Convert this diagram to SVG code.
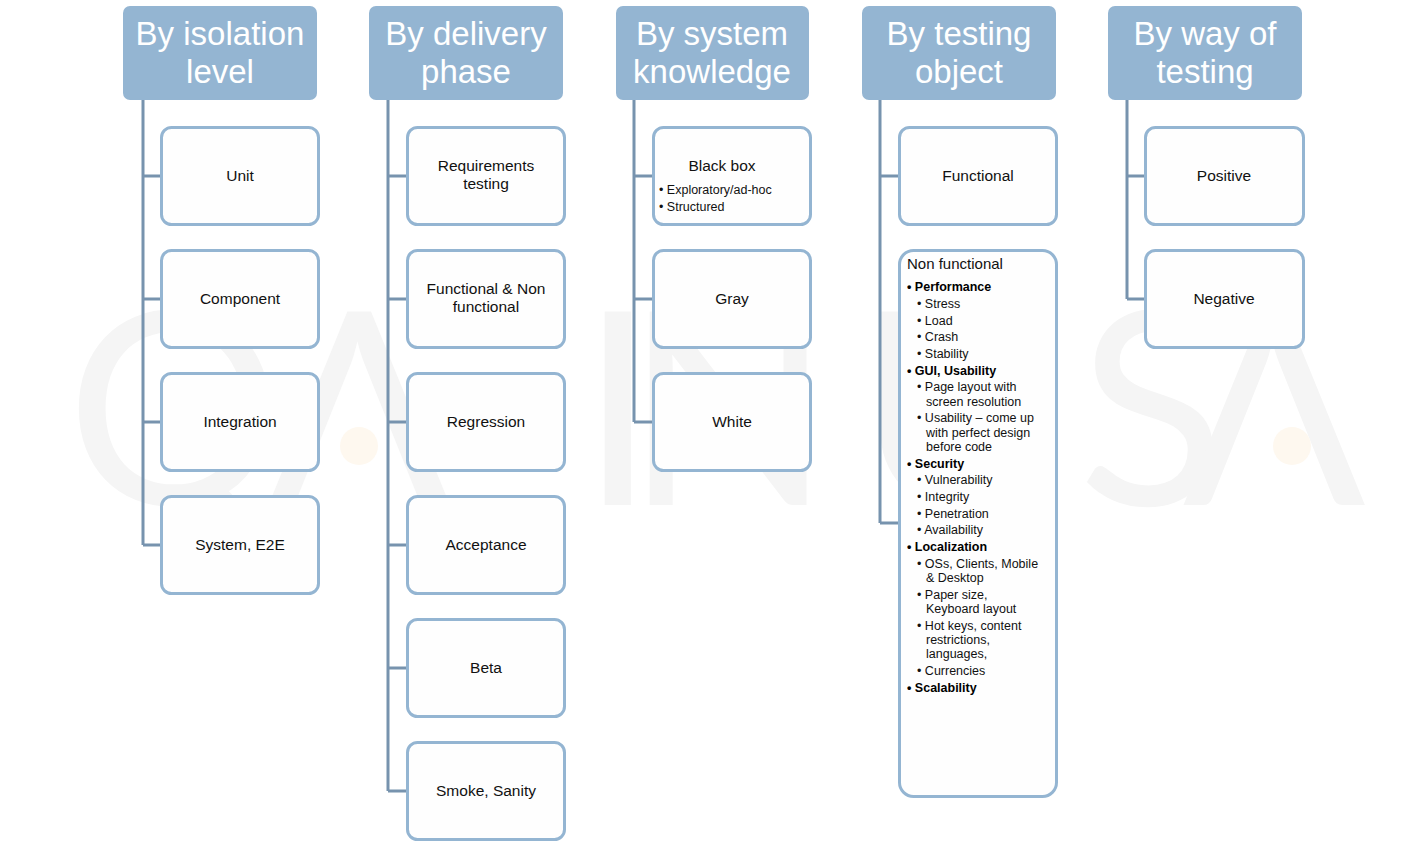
<svg xmlns="http://www.w3.org/2000/svg" width="1425" height="843" viewBox="0 0 1425 843">
<style>
.hd{fill:#94b5d2}
.ht{font-family:"Liberation Sans",Arial,sans-serif;font-size:33px;fill:#ffffff;text-anchor:middle}
.bx{fill:#fefefe;stroke:#94b5d2;stroke-width:3}
.lb{font-family:"Liberation Sans",Arial,sans-serif;font-size:15.5px;fill:#111111;text-anchor:middle}
.sm{font-family:"Liberation Sans",Arial,sans-serif;font-size:12.5px;fill:#111111}
.smb{font-family:"Liberation Sans",Arial,sans-serif;font-size:12.5px;fill:#000000;font-weight:bold}
.cn{fill:none;stroke:#7793ae;stroke-width:3}
.wm{font-family:"Lato","Liberation Sans",sans-serif;font-weight:400;font-size:270px;fill:#f5f5f5}
</style>
<rect width="1425" height="843" fill="#ffffff"/>
<g id="watermark">
<text class="wm" x="66" y="505">Q</text>
<text class="wm" x="268" y="505">Λ</text>
<text class="wm" x="580" y="505">I</text>
<text class="wm" x="625" y="505">N</text>
<text class="wm" x="858" y="505">U</text>
<text class="wm" x="1078" y="505">S</text>
<text class="wm" x="1183" y="505">Λ</text>
<circle cx="359" cy="446" r="19" fill="#fef8ef"/>
<circle cx="1292" cy="446" r="19" fill="#fef8ef"/>
</g>
<g id="connectors">
<path class="cn" d="M143 100V545M143 176H161M143 299H161M143 422H161M143 545H161"/>
<path class="cn" d="M388 100V791M388 176H407M388 299H407M388 422H407M388 545H407M388 668H407M388 791H407"/>
<path class="cn" d="M634 100V422M634 176H653M634 299H653M634 422H653"/>
<path class="cn" d="M880 100V523M880 176H899M880 523H899"/>
<path class="cn" d="M1127 100V299M1127 176H1145M1127 299H1145"/>
</g>
<g id="h1"><rect class="hd" x="123" y="6" width="194" height="94" rx="7"/><text class="ht" x="220" y="45">By isolation</text><text class="ht" x="220" y="83">level</text></g>
<g id="h2"><rect class="hd" x="369" y="6" width="194" height="94" rx="7"/><text class="ht" x="466" y="45">By delivery</text><text class="ht" x="466" y="83">phase</text></g>
<g id="h3"><rect class="hd" x="616" y="6" width="193" height="94" rx="7"/><text class="ht" x="712" y="45">By system</text><text class="ht" x="712" y="83">knowledge</text></g>
<g id="h4"><rect class="hd" x="862" y="6" width="194" height="94" rx="7"/><text class="ht" x="959" y="45">By testing</text><text class="ht" x="959" y="83">object</text></g>
<g id="h5"><rect class="hd" x="1108" y="6" width="194" height="94" rx="7"/><text class="ht" x="1205" y="45">By way of</text><text class="ht" x="1205" y="83">testing</text></g>

<g id="unit"><rect class="bx" x="161.5" y="127.5" width="157" height="97" rx="10"/><text class="lb" x="240" y="181">Unit</text></g>
<g id="component"><rect class="bx" x="161.5" y="250.5" width="157" height="97" rx="10"/><text class="lb" x="240" y="304">Component</text></g>
<g id="integration"><rect class="bx" x="161.5" y="373.5" width="157" height="97" rx="10"/><text class="lb" x="240" y="427">Integration</text></g>
<g id="system"><rect class="bx" x="161.5" y="496.5" width="157" height="97" rx="10"/><text class="lb" x="240" y="550">System, E2E</text></g>

<g id="requirements"><rect class="bx" x="407.5" y="127.5" width="157" height="97" rx="10"/><text class="lb" x="486" y="171">Requirements</text><text class="lb" x="486" y="189">testing</text></g>
<g id="funcnonfunc"><rect class="bx" x="407.5" y="250.5" width="157" height="97" rx="10"/><text class="lb" x="486" y="294">Functional &amp; Non</text><text class="lb" x="486" y="312">functional</text></g>
<g id="regression"><rect class="bx" x="407.5" y="373.5" width="157" height="97" rx="10"/><text class="lb" x="486" y="427">Regression</text></g>
<g id="acceptance"><rect class="bx" x="407.5" y="496.5" width="157" height="97" rx="10"/><text class="lb" x="486" y="550">Acceptance</text></g>
<g id="beta"><rect class="bx" x="407.5" y="619.5" width="157" height="97" rx="10"/><text class="lb" x="486" y="673">Beta</text></g>
<g id="smoke"><rect class="bx" x="407.5" y="742.5" width="157" height="97" rx="10"/><text class="lb" x="486" y="796">Smoke, Sanity</text></g>

<g id="blackbox"><rect class="bx" x="653.5" y="127.5" width="157" height="97" rx="10"/><text class="lb" x="722" y="171">Black box</text><text class="sm" x="659" y="194">• Exploratory/ad-hoc</text><text class="sm" x="659" y="211">• Structured</text></g>
<g id="gray"><rect class="bx" x="653.5" y="250.5" width="157" height="97" rx="10"/><text class="lb" x="732" y="304">Gray</text></g>
<g id="white"><rect class="bx" x="653.5" y="373.5" width="157" height="97" rx="10"/><text class="lb" x="732" y="427">White</text></g>

<g id="functional"><rect class="bx" x="899.5" y="127.5" width="157" height="97" rx="10"/><text class="lb" x="978" y="181">Functional</text></g>
<g id="nonfunctional"><rect class="bx" x="899.5" y="250.5" width="157" height="546" rx="14"/>
<text class="sm" x="907" y="269" style="font-size:15px">Non functional</text>
<text class="smb" x="907" y="291">• Performance</text>
<text class="sm" x="917" y="308">• Stress</text>
<text class="sm" x="917" y="325">• Load</text>
<text class="sm" x="917" y="341">• Crash</text>
<text class="sm" x="917" y="358">• Stability</text>
<text class="smb" x="907" y="375">• GUI, Usability</text>
<text class="sm" x="917" y="391">• Page layout with</text>
<text class="sm" x="926" y="406">screen resolution</text>
<text class="sm" x="917" y="422">• Usability – come up</text>
<text class="sm" x="926" y="437">with perfect design</text>
<text class="sm" x="926" y="451">before code</text>
<text class="smb" x="907" y="468">• Security</text>
<text class="sm" x="917" y="484">• Vulnerability</text>
<text class="sm" x="917" y="501">• Integrity</text>
<text class="sm" x="917" y="518">• Penetration</text>
<text class="sm" x="917" y="534">• Availability</text>
<text class="smb" x="907" y="551">• Localization</text>
<text class="sm" x="917" y="568">• OSs, Clients, Mobile</text>
<text class="sm" x="926" y="582">&amp; Desktop</text>
<text class="sm" x="917" y="599">• Paper size,</text>
<text class="sm" x="926" y="613">Keyboard layout</text>
<text class="sm" x="917" y="630">• Hot keys, content</text>
<text class="sm" x="926" y="644">restrictions,</text>
<text class="sm" x="926" y="658">languages,</text>
<text class="sm" x="917" y="675">• Currencies</text>
<text class="smb" x="907" y="692">• Scalability</text>
</g>

<g id="positive"><rect class="bx" x="1145.5" y="127.5" width="158" height="97" rx="10"/><text class="lb" x="1224" y="181">Positive</text></g>
<g id="negative"><rect class="bx" x="1145.5" y="250.5" width="158" height="97" rx="10"/><text class="lb" x="1224" y="304">Negative</text></g>
</svg>
